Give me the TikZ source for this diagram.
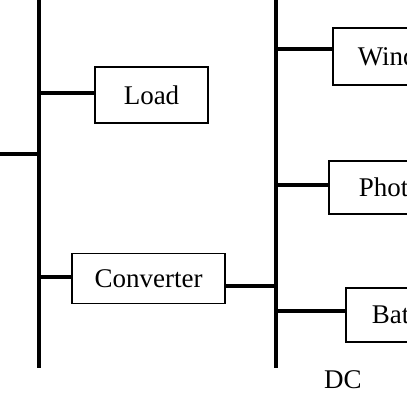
\documentclass[tikz,border=0pt]{standalone}
\usepackage{fontspec}
\setmainfont{Liberation Serif}
\begin{document}
\begin{tikzpicture}[x=1pt,y=-1pt,
  box/.style={draw,line width=1.5pt,fill=white,font=\fontsize{27}{30}\selectfont,inner sep=0pt},
  busline/.style={line width=4pt},
  wire/.style={line width=4pt}]
\useasboundingbox (0,0) rectangle (407,407);
\clip (0,0) rectangle (407,407);
% buses
\coordinate (ltop) at (39,-5);
\coordinate (lbot) at (39,368);
\coordinate (rtop) at (276,-5);
\coordinate (rbot) at (276,368);
\draw[busline] (ltop) -- (lbot);
\draw[busline] (rtop) -- (rbot);
\coordinate (feed) at (-5,154);
\draw[wire] (feed) -- (ltop |- feed);
% boxes
\node[box,minimum width=113pt,minimum height=56pt] (load) at (151.5,95) {Load};
\node[box,minimum width=153pt,minimum height=50pt] (conv) at (148.5,278.5) {Converter};
\node[box,anchor=north west,minimum height=57pt,text width=90pt,align=left,inner xsep=25pt] (wind) at (332,27) {Wind};
\node[box,anchor=north west,minimum height=53pt,text width=90pt,align=left,inner xsep=30pt] (phot) at (328,160) {Phot};
\node[box,anchor=north west,minimum height=54pt,text width=90pt,align=left,inner xsep=26pt] (bat) at (345,287) {Bat};
\node[font=\fontsize{27}{30}\selectfont,anchor=base] (dc) at (343,388) {DC};
% connectors
\coordinate (cl) at (39,93);
\draw[wire] (cl) -- (load.west |- cl);
\coordinate (cc) at (39,277);
\draw[wire] (cc) -- (conv.west |- cc);
\coordinate (cr) at (276,286);
\draw[wire] (conv.east |- cr) -- (cr);
\coordinate (cw) at (276,49);
\draw[wire] (cw) -- (wind.west |- cw);
\coordinate (cp) at (276,185);
\draw[wire] (cp) -- (phot.west |- cp);
\coordinate (cb) at (276,311);
\draw[wire] (cb) -- (bat.west |- cb);
\end{tikzpicture}
\end{document}
